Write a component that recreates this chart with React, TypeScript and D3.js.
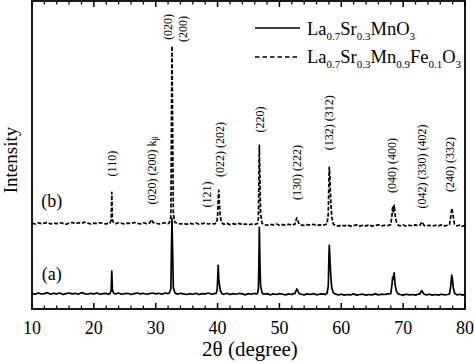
import React from 'react';
import * as d3 from 'd3';

const W = 474;
const H = 363;

const xTicks = [10, 20, 30, 40, 50, 60, 70, 80];
const xTickLabels = ['10', '20', '30', '40', '50', '60', '70', '80'];
const xLabel = '2θ (degree)';
const yLabel = 'Intensity';

const legendA = [['La', '0.7'], ['Sr', '0.3'], ['MnO', '3']];
const legendB = [['La', '0.7'], ['Sr', '0.3'], ['Mn', '0.9'], ['Fe', '0.1'], ['O', '3']];

// (a) La0.7Sr0.3MnO3  [2θ, intensity]
const patternA: [number, number][] = [
  [10, 5.1], [10.5, 4.8], [11, 5.2], [11.5, 4.9], [12, 5.0], [12.5, 5.3], [13, 4.8], [13.5, 5.1], [14, 4.9], [14.5, 5.2],
  [15, 4.7], [15.5, 5.0], [16, 5.2], [16.5, 4.9], [17, 5.1], [17.5, 4.8], [18, 5.3], [18.5, 5.0], [19, 4.8], [19.5, 5.1],
  [20, 4.9], [20.5, 5.2], [21, 4.8], [21.5, 5.0], [22, 5.1], [22.3, 4.8],
  [22.6, 5.0], [22.8, 6.0], [22.9, 12.3], [23.0, 6.2], [23.2, 5.1],
  [23.5, 4.9], [24, 5.2], [24.5, 4.8], [25, 5.0], [25.5, 5.1], [26, 4.7], [26.5, 5.0], [27, 5.2], [27.5, 4.9], [28, 5.1],
  [28.5, 4.8], [29, 5.0], [29.5, 5.2], [30, 4.9], [30.5, 5.1], [31, 4.8], [31.5, 5.2], [32, 5.0],
  [32.2, 5.2], [32.45, 6.5], [32.55, 20.0], [32.63, 29.4], [32.72, 20.5], [32.85, 7.0], [33.1, 5.3],
  [33.5, 4.8], [34, 5.1], [34.5, 4.9], [35, 4.7], [35.5, 5.0], [36, 4.8], [36.5, 5.1], [37, 4.7], [37.5, 5.0], [38, 4.9],
  [38.5, 5.2], [39, 4.8], [39.5, 5.0],
  [39.8, 5.1], [39.95, 6.5], [40.1, 14.2], [40.2, 9.5], [40.3, 8.0], [40.45, 6.0], [40.7, 5.0],
  [41, 4.8], [41.5, 5.1], [42, 4.7], [42.5, 5.0], [43, 4.8], [43.5, 5.1], [44, 4.9], [44.5, 4.6], [45, 5.0], [45.5, 4.8],
  [46, 5.1], [46.2, 4.9],
  [46.45, 5.0], [46.6, 6.5], [46.7, 18.0], [46.75, 26.5], [46.85, 15.0], [46.95, 7.5], [47.2, 5.2],
  [47.5, 4.8], [48, 5.0], [48.5, 4.6], [49, 4.9], [49.5, 4.7], [50, 5.0], [50.5, 4.8], [51, 4.6], [51.5, 4.9], [52, 4.7], [52.2, 5.0],
  [52.5, 5.0], [52.7, 6.0], [52.8, 6.5], [52.95, 6.0], [53.2, 5.0],
  [53.5, 4.8], [54, 4.6], [54.5, 4.9], [55, 4.7], [55.5, 5.0], [56, 4.6], [56.5, 4.8], [57, 4.9], [57.4, 4.7],
  [57.7, 5.1], [57.9, 7.5], [58.0, 17.0], [58.06, 20.7], [58.15, 17.0], [58.3, 11.0], [58.45, 7.0], [58.7, 5.3],
  [59, 4.9], [59.5, 4.6], [60, 4.8], [60.5, 4.5], [61, 4.7], [61.5, 4.6], [62, 4.9], [62.5, 4.5], [63, 4.7], [63.5, 4.8],
  [64, 4.5], [64.5, 4.7], [65, 4.6], [65.5, 4.9], [66, 4.6], [66.5, 4.8], [67, 4.7], [67.5, 4.9],
  [68.0, 5.0], [68.2, 8.0], [68.3, 10.4], [68.4, 9.5], [68.55, 11.7], [68.7, 8.0], [68.9, 5.8], [69.2, 4.9],
  [69.5, 4.7], [70, 4.5], [70.5, 4.8], [71, 4.6], [71.5, 4.7], [72, 4.5], [72.4, 4.8],
  [72.7, 4.8], [72.9, 5.6], [73.0, 6.0], [73.15, 5.5], [73.4, 4.8],
  [73.8, 4.6], [74.2, 4.8], [74.7, 4.5], [75.2, 4.7], [75.7, 4.5], [76.2, 4.8], [76.7, 4.6], [77.2, 4.7],
  [77.5, 4.9], [77.7, 7.5], [77.85, 11.0], [77.95, 10.0], [78.1, 7.0], [78.3, 5.2],
  [78.7, 4.6], [79.2, 4.8], [79.6, 4.5], [80, 4.7],
];

// (b) La0.7Sr0.3Mn0.9Fe0.1O3  [2θ, intensity]
const patternB: [number, number][] = [
  [10, 27.9], [10.5, 27.6], [11, 28.0], [11.5, 27.7], [12, 27.9], [12.5, 28.1], [13, 27.6], [13.5, 27.9], [14, 27.7], [14.5, 28.0],
  [15, 27.8], [15.5, 27.5], [16, 27.9], [16.5, 28.1], [17, 27.7], [17.5, 28.0], [18, 27.8], [18.5, 28.2], [19, 27.9], [19.5, 27.6],
  [20, 27.9], [20.5, 27.7], [21, 28.0], [21.5, 27.8], [22, 27.6], [22.3, 27.9],
  [22.6, 27.9], [22.8, 28.8], [22.9, 37.9], [23.0, 29.0], [23.2, 27.9],
  [23.5, 27.7], [24, 28.0], [24.5, 27.8], [25, 27.6], [25.5, 27.9], [26, 27.7], [26.5, 28.1], [27, 27.8], [27.5, 27.6], [28, 28.0], [28.5, 27.7],
  [29.0, 27.9], [29.3, 29.0], [29.6, 28.0],
  [30, 27.9], [30.5, 27.6], [31, 27.8], [31.5, 28.0], [32, 27.7],
  [32.2, 28.0], [32.45, 30.0], [32.55, 60.0], [32.63, 85.4], [32.72, 62.0], [32.85, 31.0], [33.1, 28.1],
  [33.5, 27.9], [34, 27.6], [34.5, 27.8], [35, 27.5], [35.5, 27.8], [36, 27.6], [36.5, 27.9], [37, 27.5], [37.5, 27.7], [38, 27.9],
  [38.5, 27.6], [39, 27.8], [39.5, 27.6],
  [39.85, 28.0], [40.0, 30.0], [40.1, 36.0], [40.2, 38.5], [40.3, 34.0], [40.4, 31.0], [40.6, 28.2],
  [41, 27.5], [41.5, 27.8], [42, 27.4], [42.5, 27.7], [43, 27.5], [43.5, 27.8], [44, 27.4], [44.5, 27.6], [45, 27.3], [45.5, 27.6],
  [46, 27.4], [46.2, 27.6],
  [46.45, 27.7], [46.6, 29.5], [46.7, 45.0], [46.75, 53.1], [46.85, 42.0], [46.95, 31.0], [47.2, 27.8],
  [47.5, 27.4], [48, 27.2], [48.5, 27.5], [49, 27.3], [49.5, 27.6], [50, 27.2], [50.5, 27.4], [51, 27.3], [51.5, 27.5], [52, 27.2], [52.2, 27.4],
  [52.5, 27.5], [52.7, 29.0], [52.8, 29.6], [52.95, 28.8], [53.2, 27.5],
  [53.5, 27.3], [54, 27.1], [54.5, 27.4], [55, 27.2], [55.5, 27.5], [56, 27.1], [56.5, 27.3], [57, 27.2], [57.4, 27.4],
  [57.7, 27.6], [57.9, 31.0], [58.0, 42.0], [58.06, 46.0], [58.15, 43.0], [58.3, 35.0], [58.45, 30.0], [58.7, 27.6],
  [59, 27.2], [59.5, 26.9], [60, 27.2], [60.5, 27.0], [61, 27.3], [61.5, 26.9], [62, 27.1], [62.5, 27.3], [63, 26.9], [63.5, 27.2],
  [64, 27.0], [64.5, 27.3], [65, 26.9], [65.5, 27.1], [66, 27.3], [66.5, 27.0], [67, 27.2], [67.5, 27.1],
  [68.0, 27.4], [68.2, 30.5], [68.3, 33.0], [68.4, 31.5], [68.55, 33.7], [68.7, 30.5], [68.9, 28.3], [69.2, 27.2],
  [69.5, 27.0], [70, 27.3], [70.5, 26.9], [71, 27.2], [71.5, 27.0], [72, 27.3], [72.4, 27.1],
  [72.7, 27.2], [72.9, 27.9], [73.0, 28.3], [73.15, 27.9], [73.4, 27.1],
  [73.8, 27.0], [74.2, 27.2], [74.7, 26.9], [75.2, 27.2], [75.7, 27.0], [76.2, 27.3], [76.7, 27.0], [77.2, 27.2],
  [77.5, 27.4], [77.7, 30.0], [77.85, 32.7], [77.95, 32.0], [78.1, 30.0], [78.3, 27.6],
  [78.7, 27.0], [79.2, 27.3], [79.6, 26.9], [80, 27.1],
];

// hkl annotations: text, 2θ, vertical centre (intensity units)
const peakLabels = [
  { text: '(110)', at: 22.93, level: 47.2 },
  { text: '(020) (200) k', sub: 'β', at: 29.4, level: 45.0 },
  { text: '(020)', at: 32.0, level: 91.6 },
  { text: '(200)', at: 34.4, level: 90.9 },
  { text: '(121)', at: 38.3, level: 37.2 },
  { text: '(022) (202)', at: 40.4, level: 51.8 },
  { text: '(220)', at: 46.9, level: 61.5 },
  { text: '(130) (222)', at: 52.8, level: 44.3 },
  { text: '(132) (312)', at: 58.0, level: 60.5 },
  { text: '(040) (400)', at: 68.2, level: 46.6 },
  { text: '(042) (330) (402)', at: 73.0, level: 46.3 },
  { text: '(240) (332)', at: 77.65, level: 46.9 },
];

const curveLabels = [
  { text: '(a)', at: 13.2, level: 9.4 },
  { text: '(b)', at: 13.2, level: 33.0 },
];

const FONT = '"Liberation Serif", "Times New Roman", serif';

function Formula({ x, y, parts }: { x: number; y: number; parts: string[][] }) {
  const spans: React.ReactNode[] = [];
  parts.forEach((p, i) => {
    spans.push(
      <tspan key={'m' + i} dy={i === 0 ? 0 : -5} fontSize={18.5}>{p[0]}</tspan>
    );
    spans.push(
      <tspan key={'s' + i} dy={5} fontSize={11}>{p[1]}</tspan>
    );
  });
  return (
    <text x={x} y={y} fontFamily={FONT} fill="#000">{spans}</text>
  );
}

export default function App() {
  const left = 32, right = 465, top = 1, bottom = 309;
  const x = d3.scaleLinear().domain([10, 80]).range([left, right]);
  const y = d3.scaleLinear().domain([0, 100]).range([bottom, top]);
  const line = d3.line<[number, number]>().x(d => x(d[0])).y(d => y(d[1]));
  const minor = x.ticks(35).filter(t => !xTicks.includes(t));

  return (
    <svg width={W} height={H} style={{ position: 'absolute', left: 0, top: 0, background: '#fff' }}>
      <defs>
        <clipPath id="plot"><rect x={left} y={top} width={right - left} height={bottom - top} /></clipPath>
      </defs>
      <rect x={0} y={0} width={W} height={H} fill="#fff" />
      <g clipPath="url(#plot)">
        <path d={line(patternA) || ''} fill="none" stroke="#000" strokeWidth={1.7} strokeLinejoin="round" />
        <path d={line(patternB) || ''} fill="none" stroke="#000" strokeWidth={1.7} strokeDasharray="4,1.8" strokeLinejoin="round" />
      </g>
      {/* frame */}
      <rect x={left} y={top} width={right - left} height={bottom - top} fill="none" stroke="#000" strokeWidth={1.8} />
      {/* ticks */}
      {xTicks.map(t => (
        <g key={'M' + t}>
          <line x1={x(t)} x2={x(t)} y1={bottom} y2={bottom - 6} stroke="#000" strokeWidth={1.5} />
          <line x1={x(t)} x2={x(t)} y1={top} y2={top + 6} stroke="#000" strokeWidth={1.5} />
        </g>
      ))}
      {minor.map(t => (
        <g key={'m' + t}>
          <line x1={x(t)} x2={x(t)} y1={bottom} y2={bottom - 3.5} stroke="#000" strokeWidth={1.3} />
          <line x1={x(t)} x2={x(t)} y1={top} y2={top + 3.5} stroke="#000" strokeWidth={1.3} />
        </g>
      ))}
      {xTicks.map((t, i) => (
        <text key={'L' + t} x={x(t)} y={334} textAnchor="middle" fontFamily={FONT} fontSize={18}>{xTickLabels[i]}</text>
      ))}
      <text x={250} y={356} textAnchor="middle" fontFamily={FONT} fontSize={21}>{xLabel}</text>
      <text transform={`translate(17,160) rotate(-90)`} textAnchor="middle" fontFamily={FONT} fontSize={19}>{yLabel}</text>
      {/* peak labels */}
      {peakLabels.map((p, i) => (
        <text key={'p' + i} transform={`translate(${x(p.at)},${y(p.level)}) rotate(-90)`} textAnchor="middle"
          dominantBaseline="central" fontFamily={FONT} fontSize={12}>
          {p.text}
          {p.sub ? <tspan dy={3} fontSize={8}>{p.sub}</tspan> : null}
        </text>
      ))}
      {curveLabels.map((c, i) => (
        <text key={'c' + i} x={x(c.at)} y={y(c.level)} textAnchor="middle" fontFamily={FONT} fontSize={18}>{c.text}</text>
      ))}
      {/* legend */}
      <line x1={255} x2={300} y1={28} y2={28} stroke="#000" strokeWidth={1.5} />
      <Formula x={307} y={35} parts={legendA} />
      <line x1={255} x2={300} y1={57} y2={57} stroke="#000" strokeWidth={1.5} strokeDasharray="4.5,3" />
      <Formula x={307} y={63} parts={legendB} />
    </svg>
  );
}
